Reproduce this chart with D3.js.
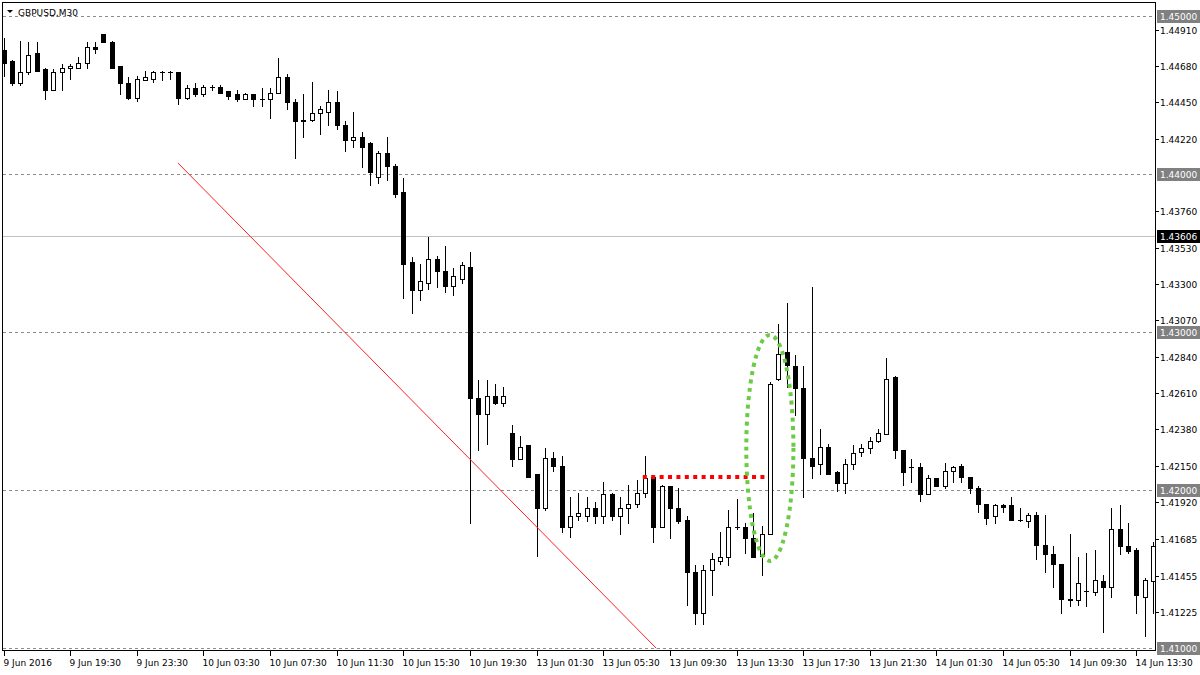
<!DOCTYPE html>
<html>
<head>
<meta charset="utf-8">
<script src="https://cdn.jsdelivr.net/npm/d3@7"></script>
<style>
  html, body { margin: 0; padding: 0; background: #fff; }
  svg { display: block; }
  text { font-family: Tahoma, "DejaVu Sans", sans-serif; font-size: 9px; }
</style>
</head>
<body>
<svg id="chart" width="1200" height="675"></svg>
<script>
// ---------------- DATA ----------------
const chartTitle = "GBPUSD,M30";

const opens = [
  1.4478,1.4471,1.4457,1.4464,1.4476,1.4466,1.4453,1.4464,1.4467,1.4467,
  1.4470,1.4480,1.4488,1.4483,1.4468,1.4457,1.4448,1.4459,1.4460,1.4464,
  1.4464,1.4464,1.4448,1.4454,1.4450,1.4455,1.4455,1.4452,1.4450,1.4447,
  1.4450,1.4447,1.4447,1.4451,1.4461,1.4445,1.4434,1.4434,1.4438,1.4439,
  1.4445,1.4431,1.4421,1.4423,1.4419,1.4398,1.4413,1.4405,1.4388,1.4344,
  1.4326,1.4331,1.4346,1.4338,1.4329,1.4333,1.4341,1.4258,1.4248,1.4259,
  1.4255,1.4236,1.4219,1.4228,1.4210,1.4188,1.4220,1.4215,1.4176,1.4183,
  1.4183,1.4188,1.4183,1.4197,1.4183,1.4188,1.4191,1.4198,1.4208,1.4176,
  1.4202,1.4188,1.4181,1.4148,1.4122,1.4149,1.4155,1.4157,1.4176,1.4176,
  1.4169,1.4158,1.4172,1.4270,1.4287,1.4278,1.4264,1.4220,1.4216,1.4227,
  1.4211,1.4204,1.4216,1.4224,1.4226,1.4231,1.4235,1.4271,1.4225,1.4214,
  1.4214,1.4197,1.4207,1.4202,1.4212,1.4215,1.4208,1.4201,1.4191,1.4183,
  1.4190,1.4190,1.4181,1.4180,1.4184,1.4165,1.4159,1.4153,1.4131,1.4130,
  1.4136,1.4135,1.4142,1.4138,1.4175,1.4164,1.4162,1.4132,1.4142
];
const highs = [
  1.4486,1.4472,1.4484,1.4483,1.4483,1.4467,1.4466,1.4469,1.4469,1.4474,
  1.4483,1.4483,1.4488,1.4484,1.4468,1.4461,1.4462,1.4465,1.4465,1.4465,
  1.4465,1.4464,1.4456,1.4457,1.4456,1.4456,1.4456,1.4452,1.4453,1.4451,
  1.4450,1.4454,1.4454,1.4473,1.4463,1.4447,1.4450,1.4458,1.4443,1.4453,
  1.4452,1.4433,1.4439,1.4426,1.4420,1.4414,1.4423,1.4406,1.4397,1.4347,
  1.4343,1.4360,1.4348,1.4354,1.4340,1.4344,1.4350,1.4269,1.4269,1.4267,
  1.4265,1.4241,1.4234,1.4228,1.4210,1.4226,1.4224,1.4221,1.4195,1.4198,
  1.4195,1.4192,1.4205,1.4198,1.4195,1.4203,1.4206,1.4221,1.4209,1.4203,
  1.4202,1.4201,1.4183,1.4152,1.4152,1.4160,1.4173,1.4187,1.4194,1.4179,
  1.4185,1.4177,1.4268,1.4305,1.4318,1.4285,1.4278,1.4328,1.4238,1.4229,
  1.4212,1.4219,1.4228,1.4229,1.4233,1.4238,1.4283,1.4272,1.4225,1.4219,
  1.4217,1.4209,1.4207,1.4217,1.4215,1.4216,1.4208,1.4202,1.4191,1.4191,
  1.4191,1.4195,1.4188,1.4185,1.4186,1.4184,1.4164,1.4153,1.4172,1.4157,
  1.4160,1.4162,1.4146,1.4188,1.4190,1.4179,1.4163,1.4144,1.4167
];
const lows = [
  1.4462,1.4456,1.4456,1.4463,1.4465,1.4447,1.4453,1.4453,1.4460,1.4467,
  1.4467,1.4476,1.4483,1.4467,1.4450,1.4447,1.4446,1.4459,1.4458,1.4459,
  1.4460,1.4444,1.4447,1.4449,1.4449,1.4453,1.4451,1.4447,1.4446,1.4447,
  1.4443,1.4443,1.4435,1.4451,1.4441,1.4410,1.4423,1.4433,1.4425,1.4431,
  1.4428,1.4414,1.4417,1.4404,1.4393,1.4394,1.4396,1.4385,1.4321,1.4312,
  1.4320,1.4327,1.4328,1.4325,1.4323,1.4331,1.4179,1.4225,1.4229,1.4254,
  1.4253,1.4215,1.4219,1.4208,1.4158,1.4187,1.4212,1.4173,1.4170,1.4181,
  1.4180,1.4179,1.4179,1.4181,1.4172,1.4179,1.4189,1.4195,1.4167,1.4176,
  1.4169,1.4179,1.4127,1.4115,1.4115,1.4133,1.4153,1.4152,1.4175,1.4160,
  1.4157,1.4146,1.4172,1.4269,1.4265,1.4247,1.4195,1.4207,1.4210,1.4210,
  1.4199,1.4198,1.4213,1.4221,1.4223,1.4230,1.4235,1.4220,1.4203,1.4205,
  1.4193,1.4197,1.4202,1.4201,1.4205,1.4205,1.4198,1.4186,1.4178,1.4179,
  1.4186,1.4181,1.4180,1.4176,1.4156,1.4148,1.4138,1.4122,1.4126,1.4127,
  1.4126,1.4133,1.4110,1.4132,1.4159,1.4160,1.4122,1.4107,1.4122
];
const closes = [
  1.4470,1.4457,1.4464,1.4475,1.4465,1.4453,1.4464,1.4467,1.4468,1.4470,
  1.4480,1.4479,1.4483,1.4467,1.4457,1.4448,1.4460,1.4461,1.4464,1.4464,
  1.4464,1.4448,1.4454,1.4450,1.4455,1.4455,1.4451,1.4449,1.4447,1.4450,
  1.4447,1.4447,1.4451,1.4461,1.4445,1.4433,1.4433,1.4438,1.4441,1.4445,
  1.4431,1.4421,1.4423,1.4417,1.4401,1.4413,1.4405,1.4387,1.4343,1.4326,
  1.4332,1.4346,1.4338,1.4329,1.4335,1.4342,1.4258,1.4248,1.4259,1.4255,
  1.4259,1.4219,1.4227,1.4208,1.4188,1.4220,1.4215,1.4176,1.4183,1.4185,
  1.4188,1.4183,1.4197,1.4183,1.4188,1.4191,1.4198,1.4207,1.4176,1.4202,
  1.4188,1.4180,1.4148,1.4122,1.4149,1.4156,1.4157,1.4176,1.4176,1.4169,
  1.4157,1.4172,1.4267,1.4286,1.4279,1.4264,1.4220,1.4215,1.4227,1.4210,
  1.4204,1.4216,1.4223,1.4226,1.4231,1.4236,1.4270,1.4225,1.4211,1.4214,
  1.4197,1.4207,1.4202,1.4212,1.4214,1.4208,1.4201,1.4191,1.4182,1.4190,
  1.4189,1.4181,1.4181,1.4184,1.4165,1.4159,1.4153,1.4131,1.4130,1.4141,
  1.4136,1.4143,1.4138,1.4175,1.4164,1.4161,1.4133,1.4143,1.4164
];

const timeLabels = [
  "9 Jun 2016","9 Jun 19:30","9 Jun 23:30","10 Jun 03:30","10 Jun 07:30",
  "10 Jun 11:30","10 Jun 15:30","10 Jun 19:30","13 Jun 01:30","13 Jun 05:30",
  "13 Jun 09:30","13 Jun 13:30","13 Jun 17:30","13 Jun 21:30","14 Jun 01:30",
  "14 Jun 05:30","14 Jun 09:30","14 Jun 13:30"
];
const timeLabelBars = [0,8,16,24,32,40,48,56,64,72,80,88,96,104,112,120,128,136];

const priceTicks = [
  1.44910,1.44680,1.44450,1.44220,1.43760,1.43530,1.43300,1.43070,
  1.42840,1.42610,1.42380,1.42150,1.41920,1.41685,1.41455,1.41225
];
const levelPrices = [1.45000,1.44000,1.43000,1.42000,1.41000];
const bidPrice = 1.43606;

// annotations (bar index, price)
const trendBars = [20.93, 78.37];
const trendPrices = [1.44067, 1.40995];
const dottedBars = [76.75, 91.5];
const dottedPrice = 1.42079;
const ellipseCenter = [92, 1.42263];
const ellipseHalfSize = [2.83, 0.00715];

// ---------------- CHART ----------------
const svg = d3.select("#chart");
const plot = { left: 2.5, top: 2.5, right: 1155.5, bottom: 650.5 };

const x = d3.scaleLinear().domain([0, 138]).range([3.5, 3.5 + 138 * 8.33]);
const y = d3.scaleLinear().domain([1.41, 1.45]).range([647.5, 15.5]);

svg.append("rect").attr("width", 1200).attr("height", 675).attr("fill", "#fff");

svg.append("defs").append("clipPath").attr("id", "clip")
  .append("rect").attr("x", 3).attr("y", 3)
  .attr("width", plot.right - 3.5).attr("height", plot.bottom - 3.5);

const g = svg.append("g").attr("clip-path", "url(#clip)");

// level lines (dashed)
g.selectAll("line.level").data(levelPrices).enter().append("line")
  .attr("class", "level")
  .attr("x1", plot.left).attr("x2", plot.right)
  .attr("y1", d => Math.round(y(d)) + 0.5).attr("y2", d => Math.round(y(d)) + 0.5)
  .attr("stroke", "#8c8c8c").attr("stroke-width", 1)
  .attr("stroke-dasharray", "3,3").attr("shape-rendering", "crispEdges");

// bid line
g.append("line")
  .attr("x1", plot.left).attr("x2", plot.right)
  .attr("y1", Math.round(y(bidPrice)) + 0.5).attr("y2", Math.round(y(bidPrice)) + 0.5)
  .attr("stroke", "#c0c0c0").attr("stroke-width", 1).attr("shape-rendering", "crispEdges");

// candles
const bars = d3.range(opens.length).map(i => ({
  i, o: opens[i], h: highs[i], l: lows[i], c: closes[i]
}));
const cg = g.append("g").attr("shape-rendering", "crispEdges");

cg.selectAll("line.wick").data(bars).enter().append("line")
  .attr("x1", d => Math.round(x(d.i)) + 0.5).attr("x2", d => Math.round(x(d.i)) + 0.5)
  .attr("y1", d => Math.round(y(d.h))).attr("y2", d => Math.round(y(d.l)) + 1)
  .attr("stroke", "#000").attr("stroke-width", 1);

bars.forEach(d => {
  const cx = Math.round(x(d.i));
  const yt = Math.round(y(Math.max(d.o, d.c)));
  const yb = Math.round(y(Math.min(d.o, d.c)));
  if (d.c > d.o) {
    cg.append("rect")
      .attr("x", cx - 1.5).attr("y", yt + 0.5)
      .attr("width", 4).attr("height", Math.max(1, yb - yt))
      .attr("fill", "#fff").attr("stroke", "#000").attr("stroke-width", 1);
  } else if (d.c < d.o) {
    cg.append("rect")
      .attr("x", cx - 2).attr("y", yt)
      .attr("width", 5).attr("height", Math.max(1, yb - yt + 1))
      .attr("fill", "#000");
  } else {
    cg.append("line")
      .attr("x1", cx - 2).attr("x2", cx + 3)
      .attr("y1", yt + 0.5).attr("y2", yt + 0.5)
      .attr("stroke", "#000").attr("stroke-width", 1);
  }
});

// red trend line
g.append("line")
  .attr("x1", x(trendBars[0])).attr("y1", y(trendPrices[0]))
  .attr("x2", x(trendBars[1])).attr("y2", y(trendPrices[1]))
  .attr("stroke", "#ff2020").attr("stroke-width", 1);

// red dotted level
g.append("line")
  .attr("x1", x(dottedBars[0])).attr("x2", x(dottedBars[1]))
  .attr("y1", y(dottedPrice)).attr("y2", y(dottedPrice))
  .attr("stroke", "#ff0000").attr("stroke-width", 4)
  .attr("stroke-dasharray", "4,4.4");

// green dotted ellipse
g.append("ellipse")
  .attr("cx", x(ellipseCenter[0])).attr("cy", y(ellipseCenter[1]))
  .attr("rx", x(ellipseCenter[0] + ellipseHalfSize[0]) - x(ellipseCenter[0]))
  .attr("ry", y(ellipseCenter[1] - ellipseHalfSize[1]) - y(ellipseCenter[1]))
  .attr("fill", "none").attr("stroke", "#6acc45").attr("stroke-width", 4)
  .attr("stroke-dasharray", "4,4.4");

// frame
svg.append("rect")
  .attr("x", plot.left).attr("y", plot.top)
  .attr("width", plot.right - plot.left).attr("height", plot.bottom - plot.top)
  .attr("fill", "none").attr("stroke", "#000").attr("stroke-width", 1)
  .attr("shape-rendering", "crispEdges");

// title
svg.append("path")
  .attr("d", "M7,10 L13,10 L10,13 Z").attr("fill", "#000");
svg.append("text").attr("x", 18).attr("y", 16).attr("fill", "#000").text(chartTitle);

// right price axis ticks & labels
const ax = svg.append("g");
ax.selectAll("line.pt").data(priceTicks).enter().append("line")
  .attr("x1", plot.right).attr("x2", plot.right + 3)
  .attr("y1", d => Math.round(y(d)) + 0.5).attr("y2", d => Math.round(y(d)) + 0.5)
  .attr("stroke", "#000").attr("shape-rendering", "crispEdges");
ax.selectAll("text.pt").data(priceTicks).enter().append("text")
  .attr("x", 1160).attr("y", d => Math.round(y(d)) + 4)
  .attr("fill", "#000")
  .text(d => d.toFixed(5));

// level label boxes
levelPrices.forEach(v => {
  const yy = Math.round(y(v));
  ax.append("rect").attr("x", 1157).attr("y", yy - 6).attr("width", 43).attr("height", 13)
    .attr("fill", "#808080");
  ax.append("text").attr("x", 1160).attr("y", yy + 4).attr("fill", "#fff").text(v.toFixed(5));
});
{
  const yy = Math.round(y(bidPrice));
  ax.append("rect").attr("x", 1157).attr("y", yy - 6).attr("width", 43).attr("height", 13)
    .attr("fill", "#000");
  ax.append("text").attr("x", 1160).attr("y", yy + 4).attr("fill", "#fff").text(bidPrice.toFixed(5));
}

// bottom time axis
const tx = svg.append("g");
timeLabelBars.forEach((b, k) => {
  const xx = Math.round(x(b)) + 0.5;
  tx.append("line").attr("x1", xx).attr("x2", xx)
    .attr("y1", plot.bottom).attr("y2", plot.bottom + 5)
    .attr("stroke", "#000").attr("shape-rendering", "crispEdges");
  tx.append("text").attr("x", xx - 1).attr("y", 666).attr("fill", "#000").text(timeLabels[k]);
});
</script>
</body>
</html>
